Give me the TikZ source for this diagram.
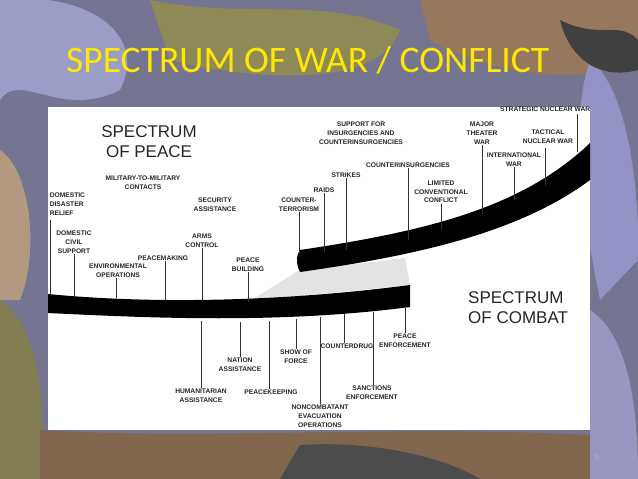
\documentclass[tikz,border=0pt]{standalone}
\usepackage{fontspec}
\setmainfont{Liberation Sans}
\newfontfamily\titlefont{Carlito}
\begin{document}
\begin{tikzpicture}[x=0.03cm,y=-0.03cm,
  lbl/.style={font=\bfseries\fontsize{5.7}{7.5}\selectfont,align=center,inner sep=0.5pt,text=black!85},
  big/.style={font=\fontsize{14.5}{17}\selectfont,align=left,inner sep=0pt,text=black!85},
  tick/.style={draw=black!80,line width=0.7pt}]
\useasboundingbox (0,0) rectangle (638,479);
% camouflage background
\fill[black!40!blue!20!gray!90] (0,0) rectangle (638,479);
\fill[blue!30!gray!60] (0,0) .. controls (80,-10) and (150,30) .. (120,90) .. controls (60,120) and (20,70) .. (0,100) -- cycle;
\fill[olive!55!black!70] (150,0) .. controls (250,20) and (320,-5) .. (400,30) .. controls (380,90) and (250,80) .. (170,60) -- cycle;
\fill[brown!60!black!75] (420,0) -- (638,0) -- (638,60) .. controls (580,90) and (480,70) .. (430,40) -- cycle;
\fill[blue!30!gray!65] (590,60) .. controls (630,90) and (640,200) .. (638,260) -- (600,300) .. controls (580,200) and (570,120) .. (590,60) -- cycle;
\fill[black!75] (560,20) .. controls (600,40) and (620,20) .. (638,40) -- (638,70) .. controls (600,80) and (570,60) .. (560,20) -- cycle;
\fill[olive!50!black!75] (0,300) .. controls (30,320) and (50,380) .. (40,479) -- (0,479) -- cycle;
\fill[brown!50!gray!80] (0,150) .. controls (30,170) and (40,250) .. (20,300) -- (0,300) -- cycle;
\fill[brown!50!black!80] (40,430) .. controls (200,440) and (400,425) .. (590,435) -- (600,479) -- (40,479) -- cycle;
\fill[blue!25!gray!65] (590,310) .. controls (620,330) and (638,380) .. (638,479) -- (590,479) -- cycle;
\fill[black!70] (300,445) .. controls (380,440) and (450,460) .. (480,479) -- (280,479) -- cycle;
% title
\node[font=\titlefont\fontsize{32}{36}\selectfont,text=yellow!90!orange,anchor=west,inner sep=0pt] (title) at (66,60) {SPECTRUM OF WAR / CONFLICT};
\node[font=\fontsize{7}{8}\selectfont,text=gray!60] (pg) at (597,458) {9};
% panel
\fill[white] (48,107) rectangle (590,430);
% wedge
\fill[gray!22] (250,301) -- (410,285) -- (405,258) -- (298,271) -- cycle;
% bands
\fill[black] (48,294) .. controls (150,304) and (280,302) .. (410,285) -- (410,307) .. controls (280,324) and (150,318) .. (48,313) -- cycle;
\fill[black] (300,250) .. controls (420,232) and (520,210) .. (590,143) -- (590,180) .. controls (520,232) and (420,255) .. (300,272) .. controls (296,265) and (296,255) .. (300,250) -- cycle;
% big labels
\node[big,align=center] (peace) at (149,142) {SPECTRUM\\OF PEACE};
\node[big,anchor=west] (combat) at (468,308) {SPECTRUM\\OF COMBAT};
% labels above lower band
\node[lbl,align=left,anchor=north west] (ddr) at (49,192) {DOMESTIC\\DISASTER\\RELIEF};
\draw[tick] (50,220) -- (50,295);
\node[lbl,anchor=north] (dcs) at (74,230) {DOMESTIC\\CIVIL\\SUPPORT};
\draw[tick] (dcs.south) -- (dcs.south |- 0,296);
\node[lbl,anchor=north] (env) at (118,263) {ENVIRONMENTAL\\OPERATIONS};
\draw[tick] ([xshift=-1]env.south) -- ([xshift=-1]env.south |- 0,298);
\node[lbl,anchor=north] (pm) at (163,255) {PEACEMAKING};
\draw[tick] ([xshift=2]pm.south) -- ([xshift=2]pm.south |- 0,300);
\node[lbl,anchor=north] (arms) at (202,233) {ARMS\\CONTROL};
\draw[tick] (arms.south) -- (arms.south |- 0,301);
\node[lbl,anchor=north] (pb) at (248,257) {PEACE\\BUILDING};
\draw[tick] (pb.south) -- (pb.south |- 0,302);
\node[lbl,anchor=north] (sa) at (215,197) {SECURITY\\ASSISTANCE};
\node[lbl,anchor=north] (mil) at (143,175) {MILITARY-TO-MILITARY\\CONTACTS};
\node[lbl,anchor=north] (ct) at (299,197) {COUNTER-\\TERRORISM};
\draw[tick] (ct.south) -- (ct.south |- 0,254);
% upper band labels
\node[lbl,anchor=north] (raids) at (324,187) {RAIDS};
\draw[tick] (raids.south) -- (raids.south |- 0,252);
\node[lbl,anchor=north] (strikes) at (346,172) {STRIKES};
\draw[tick] (strikes.south) -- (strikes.south |- 0,250);
\node[lbl,anchor=north] (sup) at (361,121) {SUPPORT FOR\\INSURGENCIES AND\\COUNTERINSURGENCIES};
\node[lbl,anchor=north] (ci) at (408,162) {COUNTERINSURGENCIES};
\draw[tick] (ci.south) -- (ci.south |- 0,240);
\node[lbl,anchor=north] (lcc) at (441,180) {LIMITED\\CONVENTIONAL\\CONFLICT};
\draw[tick] (lcc.south) -- (lcc.south |- 0,230);
\node[lbl,anchor=north] (mtw) at (482,121) {MAJOR\\THEATER\\WAR};
\draw[tick] (mtw.south) -- (mtw.south |- 0,214);
\node[lbl,anchor=north] (iw) at (514,152) {INTERNATIONAL\\WAR};
\draw[tick] (iw.south) -- (iw.south |- 0,200);
\node[lbl,anchor=north] (tnw) at (548,129) {TACTICAL\\NUCLEAR WAR};
\draw[tick] (545,148) -- (545,186);
\node[lbl,anchor=north east] (snw) at (591,106) {STRATEGIC NUCLEAR WAR};
\draw[tick] (577,114) -- (577,152);
% below lower band
\node[lbl,anchor=north] (na) at (240,357) {NATION\\ASSISTANCE};
\draw[tick] (na.north) -- (na.north |- 0,322);
\node[lbl,anchor=north] (ha) at (201,388) {HUMANITARIAN\\ASSISTANCE};
\draw[tick] (ha.north) -- (ha.north |- 0,321);
\node[lbl,anchor=north] (pk) at (271,389) {PEACEKEEPING};
\draw[tick] ([xshift=-1]pk.north) -- ([xshift=-1]pk.north |- 0,321);
\node[lbl,anchor=north] (sof) at (296,349) {SHOW OF\\FORCE};
\draw[tick] (sof.north) -- (sof.north |- 0,319);
\node[lbl,anchor=north] (cd) at (347,343) {COUNTERDRUG};
\draw[tick] ([xshift=-2]cd.north) -- ([xshift=-2]cd.north |- 0,314);
\node[lbl,anchor=north] (neo) at (320,404) {NONCOMBATANT\\EVACUATION\\OPERATIONS};
\draw[tick] (neo.north) -- (neo.north |- 0,317);
\node[lbl,anchor=north] (se) at (372,385) {SANCTIONS\\ENFORCEMENT};
\draw[tick] ([xshift=1]se.north) -- ([xshift=1]se.north |- 0,312);
\node[lbl,anchor=north] (pe) at (405,333) {PEACE\\ENFORCEMENT};
\draw[tick] (pe.north) -- (pe.north |- 0,306);
\end{tikzpicture}
\end{document}
